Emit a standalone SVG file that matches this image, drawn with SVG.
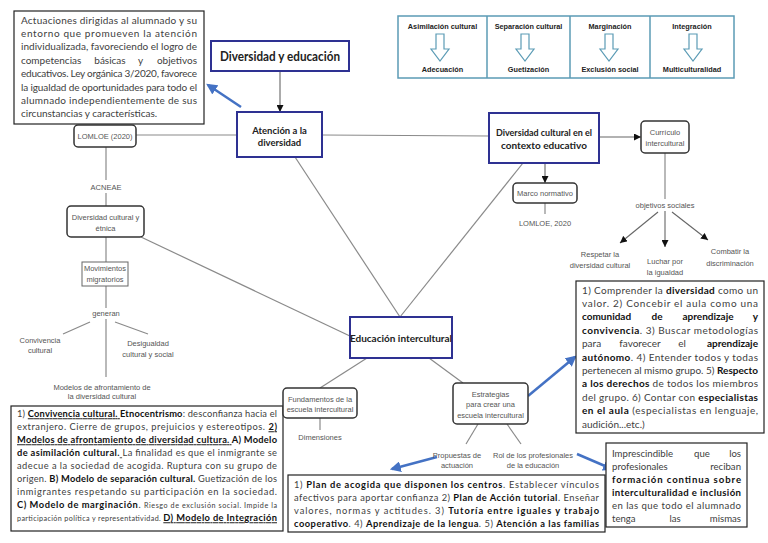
<svg xmlns="http://www.w3.org/2000/svg" width="768" height="543" viewBox="0 0 768 543">
<defs>
<marker id="ka" viewBox="0 0 10 10" refX="10" refY="5" markerWidth="7" markerHeight="7" markerUnits="userSpaceOnUse" orient="auto"><path d="M0,0 L10,5 L0,10 z" fill="#111"/></marker>
<marker id="ba" viewBox="0 0 10 10" refX="8" refY="5" markerWidth="11" markerHeight="11" markerUnits="userSpaceOnUse" orient="auto"><path d="M0,0 L10,5 L0,10 z" fill="#4472c4"/></marker>
<style>
.nb{fill:#fff;stroke:#2e3192;stroke-width:2}
.rb{fill:#fff;stroke:#333;stroke-width:1.5}
.sq{fill:#fff;stroke:#666;stroke-width:1}
.tb{fill:#fff;stroke:#222;stroke-width:1.2}
.ln{stroke:#8a8a8a;stroke-width:1.2;fill:none}
.ar{stroke:#666;stroke-width:1.1;fill:none;marker-end:url(#ka)}
.bl{stroke:#4472c4;stroke-width:2.5;fill:none;marker-end:url(#ba)}
.tl{fill:#fff;stroke:#5b9bb5;stroke-width:1.5}
.ha{fill:#fff;stroke:#5b9bb5;stroke-width:1.2}
text{font-family:Lato,"Liberation Sans",sans-serif}
.h{font-weight:bold;fill:#222;text-anchor:middle}
.g{font-family:"Liberation Sans",Arial,sans-serif;font-size:7.5px;fill:#555;text-anchor:middle}
.tt{font-family:"Liberation Sans",Arial,sans-serif;font-weight:bold;font-size:7.3px;fill:#222;text-anchor:middle}
.p{font-size:10px;fill:#404040}
.r{font-size:9.6px;fill:#404040}
.q{font-size:9.3px;fill:#404040}
.b{font-weight:bold;fill:#111}
.u{text-decoration:underline}
.s{font-size:7.2px}
.e{text-anchor:end}
.m{text-anchor:middle}
</style>
</defs>

<g id="connectors">
<line class="ar" x1="280" y1="71" x2="280" y2="112"/>
<line class="ln" x1="136" y1="135" x2="237" y2="135"/>
<line class="ln" x1="322" y1="135" x2="489" y2="136"/>
<line class="ln" x1="295" y1="157" x2="400" y2="317"/>
<line class="ln" x1="523" y1="163" x2="400" y2="317"/>
<line class="ln" x1="141" y1="237" x2="352" y2="337"/>
<line class="ln" x1="106" y1="147" x2="106" y2="180"/>
<line class="ln" x1="106" y1="193" x2="106" y2="206"/>
<line class="ln" x1="106" y1="237" x2="106" y2="262"/>
<line class="ln" x1="106" y1="286" x2="106" y2="308"/>
<line class="ln" x1="106" y1="319" x2="106" y2="377"/>
<line class="ln" x1="90" y1="322" x2="63" y2="334"/>
<line class="ln" x1="115" y1="322" x2="148" y2="334"/>
<line class="ar" x1="599" y1="137" x2="641" y2="137"/>
<line class="ar" x1="545" y1="163" x2="545" y2="183"/>
<line class="ln" x1="545" y1="203" x2="545" y2="214"/>
<line class="ln" x1="665" y1="153" x2="665" y2="199"/>
<line class="ar" x1="658" y1="212" x2="620" y2="243"/>
<line class="ar" x1="665" y1="211" x2="665" y2="247"/>
<line class="ar" x1="672" y1="212" x2="708" y2="240"/>
<line class="ln" x1="367" y1="358" x2="320" y2="388"/>
<line class="ln" x1="429" y1="358" x2="463" y2="383"/>
<line class="ln" x1="320" y1="418" x2="320" y2="430"/>
<line class="ln" x1="478" y1="424" x2="466" y2="444"/>
<line class="ln" x1="507" y1="424" x2="521" y2="444"/>
<line class="bl" x1="241" y1="107" x2="208" y2="85"/>
<line class="bl" x1="528" y1="396" x2="575" y2="357"/>
<line class="bl" x1="437" y1="457" x2="392" y2="469"/>
<line class="bl" x1="577" y1="454" x2="612" y2="469"/>
</g>

<g id="modelos-tabla">
<rect class="tl" x="398" y="16" width="336" height="62"/>
<line class="tl" x1="487" y1="16" x2="487" y2="78"/>
<line class="tl" x1="570" y1="16" x2="570" y2="78"/>
<line class="tl" x1="650" y1="16" x2="650" y2="78"/>
<text class="tt" x="442.5" y="28.5">Asimilación cultural</text>
<text class="tt" x="528.5" y="28.5">Separación cultural</text>
<text class="tt" x="610" y="28.5">Marginación</text>
<text class="tt" x="692" y="28.5">Integración</text>
<polygon class="ha" points="436,34 444,34 444,49 449,49 440,61 431,49 436,49"/>
<polygon class="ha" points="521,34 529,34 529,49 534,49 525,61 516,49 521,49"/>
<polygon class="ha" points="605,34 613,34 613,49 618,49 609,61 600,49 605,49"/>
<polygon class="ha" points="689,34 697,34 697,49 702,49 693,61 684,49 689,49"/>
<text class="tt" x="442.5" y="71.5">Adecuación</text>
<text class="tt" x="528.5" y="71.5">Guetización</text>
<text class="tt" x="610" y="71.5">Exclusión social</text>
<text class="tt" x="692" y="71.5">Multiculturalidad</text>
</g>

<g id="nota-atencion">
<rect class="tb" x="14" y="11" width="190" height="113"/>
<text class="p" x="21" y="23.5" textLength="176" lengthAdjust="spacing">Actuaciones dirigidas al alumnado y su</text>
<text class="p" x="21" y="37" textLength="176" lengthAdjust="spacing">entorno que promueven la atención</text>
<text class="p" x="21" y="50.4" textLength="176" lengthAdjust="spacing">individualizada, favoreciendo el logro de</text>
<text class="p" x="21" y="63.8">competencias</text>
<text class="p m" x="110" y="63.8">básicas</text>
<text class="p m" x="140.5" y="63.8">y</text>
<text class="p e" x="197" y="63.8">objetivos</text>
<text class="p" x="21" y="77.2" textLength="176" lengthAdjust="spacing">educativos. Ley orgánica 3/2020, favorece</text>
<text class="p" x="21" y="90.6" textLength="176" lengthAdjust="spacing">la igualdad de oportunidades para todo el</text>
<text class="p" x="21" y="104" textLength="176" lengthAdjust="spacing">alumnado independientemente de sus</text>
<text class="p" x="21" y="117.4">circunstancias y características.</text>
</g>

<g id="diversidad-educacion">
<rect class="nb" x="211" y="41" width="138" height="30"/>
<text class="h" x="280" y="60.5" font-size="12.5" textLength="120" lengthAdjust="spacingAndGlyphs">Diversidad y educación</text>
</g>

<g id="atencion-diversidad">
<rect class="nb" x="237" y="112" width="85" height="45"/>
<text class="h" x="279.5" y="133.5" font-size="9.5">Atención a la</text>
<text class="h" x="279.5" y="145.5" font-size="9.5">diversidad</text>
</g>

<g id="lomloe">
<rect class="rb" x="74" y="125" width="62" height="22" rx="4"/>
<text class="g" x="105" y="139" font-size="8">LOMLOE (2020)</text>
</g>
<text class="g" x="106" y="189.5" font-size="8">ACNEAE</text>

<g id="diversidad-etnica">
<rect class="rb" x="67" y="206" width="77" height="31" rx="4"/>
<text class="g" x="105.5" y="220">Diversidad cultural y</text>
<text class="g" x="105.5" y="231">étnica</text>
</g>

<g id="movimientos">
<rect class="sq" x="82" y="262" width="46" height="24"/>
<text class="g" x="105" y="271">Movimientos</text>
<text class="g" x="105" y="281.5">migratorios</text>
</g>
<text class="g" x="106" y="316">generan</text>
<text class="g" x="40" y="342.5">Convivencia</text>
<text class="g" x="40" y="353">cultural</text>
<text class="g" x="148" y="345.5">Desigualdad</text>
<text class="g" x="148" y="356.5">cultural y social</text>
<text class="g" x="102" y="389.5">Modelos de afrontamiento de</text>
<text class="g" x="102" y="398.5">la diversidad cultural</text>

<g id="nota-modelos">
<rect class="tb" x="11" y="406" width="272" height="125"/>
<text class="q" x="17" y="417.3" textLength="260" lengthAdjust="spacing">1) <tspan class="b u">Convivencia cultural. </tspan><tspan class="b">Etnocentrismo</tspan>: desconfianza hacia el</text>
<text class="q" x="17" y="430.3" textLength="260" lengthAdjust="spacing">extranjero. Cierre de grupos, prejuicios y estereotipos. <tspan class="b u">2)</tspan></text>
<text class="q" x="17" y="443.3" textLength="260" lengthAdjust="spacing"><tspan class="b u">Modelos de afrontamiento de diversidad cultura. </tspan><tspan class="b">A) Modelo</tspan></text>
<text class="q" x="17" y="456.3" textLength="260" lengthAdjust="spacing"><tspan class="b">de asimilación cultural.</tspan><tspan class="u"> </tspan>La finalidad es que el inmigrante se</text>
<text class="q" x="17" y="469.3" textLength="260" lengthAdjust="spacing">adecue a la sociedad de acogida. Ruptura con su grupo de</text>
<text class="q" x="17" y="482.3" textLength="260" lengthAdjust="spacing">origen. <tspan class="b">B) Modelo de separación cultural.</tspan> <tspan class="u"> </tspan>Guetización de los</text>
<text class="q" x="17" y="495.3" textLength="260" lengthAdjust="spacing">inmigrantes respetando su participación en la sociedad.</text>
<text class="q" x="17" y="508.3" textLength="260" lengthAdjust="spacing"><tspan class="b">C) Modelo de marginación</tspan>. <tspan class="s">Riesgo de exclusión social. Impide la</tspan></text>
<text class="q" x="17" y="521.3" textLength="260" lengthAdjust="spacing"><tspan class="s">participación política y representatividad. </tspan><tspan class="b u">D) Modelo de Integración</tspan></text>
</g>

<g id="diversidad-contexto">
<rect class="nb" x="489" y="113" width="110" height="50"/>
<text class="h" x="544" y="135.5" font-size="10" textLength="96" lengthAdjust="spacingAndGlyphs">Diversidad cultural en el</text>
<text class="h" x="544" y="148.5" font-size="10">contexto educativo</text>
</g>

<g id="curriculo">
<rect class="rb" x="641" y="121" width="48" height="32" rx="4"/>
<text class="g" x="665" y="134.5">Currículo</text>
<text class="g" x="665" y="145.5">intercultural</text>
</g>
<text class="g" x="665" y="207.5">objetivos sociales</text>
<text class="g" x="600" y="256.5">Respetar la</text>
<text class="g" x="600" y="267.5">diversidad cultural</text>
<text class="g" x="665" y="263.5">Luchar por</text>
<text class="g" x="665" y="274.5">la igualdad</text>
<text class="g" x="730" y="253.5">Combatir la</text>
<text class="g" x="730" y="265.5">discriminación</text>

<g id="marco-normativo">
<rect class="rb" x="513" y="183" width="64" height="20" rx="4"/>
<text class="g" x="545" y="195.5">Marco normativo</text>
</g>
<text class="g" x="545" y="225.5">LOMLOE, 2020</text>

<g id="nota-principios">
<rect class="tb" x="576" y="281" width="188" height="152"/>
<text class="p" x="582" y="293.5" textLength="176" lengthAdjust="spacing">1) Comprender la <tspan class="b">diversidad</tspan> como un</text>
<text class="p" x="582" y="306.9" textLength="176" lengthAdjust="spacing">valor. 2) Concebir el aula como una</text>
<text class="p b" x="582" y="320.3">comunidad</text>
<text class="p b m" x="657" y="320.3">de</text>
<text class="p b m" x="708" y="320.3">aprendizaje</text>
<text class="p b e" x="758" y="320.3">y</text>
<text class="p" x="582" y="333.7" textLength="176" lengthAdjust="spacing"><tspan class="b">convivencia</tspan>. 3) Buscar metodologías</text>
<text class="p" x="582" y="347.1">para</text>
<text class="p m" x="640" y="347.1">favorecer</text>
<text class="p m" x="682" y="347.1">el</text>
<text class="p b e" x="758" y="347.1">aprendizaje</text>
<text class="p" x="582" y="360.5" textLength="176" lengthAdjust="spacing"><tspan class="b">autónomo</tspan>. 4) Entender todos y todas</text>
<text class="p" x="582" y="373.9" textLength="176" lengthAdjust="spacing">pertenecen al mismo grupo. 5) <tspan class="b">Respecto</tspan></text>
<text class="p" x="582" y="387.3" textLength="176" lengthAdjust="spacing"><tspan class="b">a los derechos</tspan> de todos los miembros</text>
<text class="p" x="582" y="400.7" textLength="176" lengthAdjust="spacing">del grupo.  6) Contar con <tspan class="b">especialistas</tspan></text>
<text class="p" x="582" y="414.1" textLength="176" lengthAdjust="spacing"><tspan class="b">en el aula</tspan> (especialistas en lenguaje,</text>
<text class="p" x="582" y="427.5">audición...etc.)</text>
</g>

<g id="educacion-intercultural">
<rect class="nb" x="350" y="317" width="102" height="41"/>
<text class="h" x="401" y="341.5" font-size="10">Educación intercultural</text>
</g>

<g id="fundamentos">
<rect class="rb" x="283" y="388" width="74" height="30" rx="4"/>
<text class="g" x="320" y="401.5">Fundamentos de la</text>
<text class="g" x="320" y="411.5">escuela intercultural</text>
</g>
<text class="g" x="320" y="439.5">Dimensiones</text>

<g id="estrategias">
<rect class="rb" x="453" y="383" width="75" height="41" rx="4"/>
<text class="g" x="490.5" y="396.5">Estrategias</text>
<text class="g" x="490.5" y="407">para crear una</text>
<text class="g" x="490.5" y="417.5">escuela intercultural</text>
</g>
<text class="g" x="457" y="457.5">Propuestas de</text>
<text class="g" x="457" y="467.5">actuación</text>
<text class="g" x="533" y="457.5">Rol de los profesionales</text>
<text class="g" x="533" y="467.5">de la educación</text>

<g id="nota-propuestas">
<rect class="tb" x="288" y="475" width="317" height="57"/>
<text class="q" x="294" y="488.3" textLength="305" lengthAdjust="spacing">1) <tspan class="b">Plan de acogida que disponen los centros</tspan>. Establecer vínculos</text>
<text class="q" x="294" y="501.3" textLength="305" lengthAdjust="spacing">afectivos para aportar confianza 2) <tspan class="b">Plan de Acción tutorial</tspan>. Enseñar</text>
<text class="q" x="294" y="514.3" textLength="305" lengthAdjust="spacing">valores, normas y actitudes. 3) <tspan class="b">Tutoría entre iguales y trabajo</tspan></text>
<text class="q" x="294" y="527.3" textLength="305" lengthAdjust="spacing"><tspan class="b">cooperativo</tspan>. 4) <tspan class="b">Aprendizaje de la lengua</tspan>. 5) <tspan class="b">Atención a las familias</tspan></text>
</g>

<g id="nota-profesionales">
<rect class="tb" x="606" y="443" width="141" height="84"/>
<text class="r" x="612" y="456.5">Imprescindible</text>
<text class="r m" x="702" y="456.5">que</text>
<text class="r e" x="741" y="456.5">los</text>
<text class="r" x="612" y="469.5">profesionales</text>
<text class="r e" x="741" y="469.5">reciban</text>
<text class="r b" x="612" y="482.5" textLength="129" lengthAdjust="spacing">formación  continua  sobre</text>
<text class="r b" x="612" y="495.5" textLength="129" lengthAdjust="spacing">interculturalidad e inclusión</text>
<text class="r" x="612" y="508.5" textLength="129" lengthAdjust="spacing">en las que todo el alumnado</text>
<text class="r" x="612" y="521.5">tenga</text>
<text class="r m" x="675" y="521.5">las</text>
<text class="r e" x="741" y="521.5">mismas</text>
</g>
</svg>
